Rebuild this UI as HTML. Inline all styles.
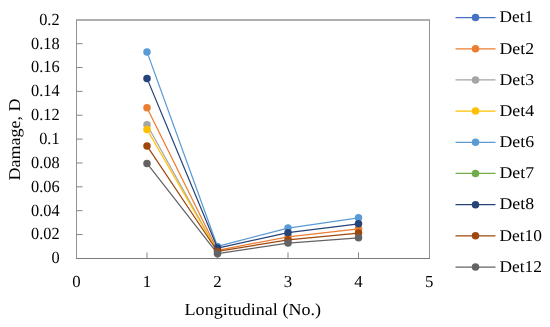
<!DOCTYPE html><html><head><meta charset="utf-8"><style>html,body{margin:0;padding:0;background:#fff;width:550px;height:327px;overflow:hidden}svg{display:block}text{font-family:"Liberation Serif", serif;fill:#000;text-rendering:geometricPrecision}</style></head><body>
<svg width="550" height="327" viewBox="0 0 550 327">
<rect width="550" height="327" fill="#fff"/>
<path d="M76.5,258.5 V20 M429.5,20 V258.5" fill="none" stroke="#949494" stroke-width="1"/>
<line x1="76.0" y1="20" x2="430.0" y2="20" stroke="#949494" stroke-width="1.4"/>
<line x1="76.0" y1="258.5" x2="430.0" y2="258.5" stroke="#7a7a7a" stroke-width="1"/>
<line x1="76.5" y1="234.54" x2="82.5" y2="234.54" stroke="#858585" stroke-width="1"/>
<line x1="76.5" y1="210.68" x2="82.5" y2="210.68" stroke="#858585" stroke-width="1"/>
<line x1="76.5" y1="186.82" x2="82.5" y2="186.82" stroke="#858585" stroke-width="1"/>
<line x1="76.5" y1="162.96" x2="82.5" y2="162.96" stroke="#858585" stroke-width="1"/>
<line x1="76.5" y1="139.10" x2="82.5" y2="139.10" stroke="#858585" stroke-width="1"/>
<line x1="76.5" y1="115.24" x2="82.5" y2="115.24" stroke="#858585" stroke-width="1"/>
<line x1="76.5" y1="91.38" x2="82.5" y2="91.38" stroke="#858585" stroke-width="1"/>
<line x1="76.5" y1="67.52" x2="82.5" y2="67.52" stroke="#858585" stroke-width="1"/>
<line x1="76.5" y1="43.66" x2="82.5" y2="43.66" stroke="#858585" stroke-width="1"/>
<line x1="147.00" y1="258.4" x2="147.00"  y2="252.39999999999998" stroke="#858585" stroke-width="1"/>
<line x1="217.50" y1="258.4" x2="217.50"  y2="252.39999999999998" stroke="#858585" stroke-width="1"/>
<line x1="288.00" y1="258.4" x2="288.00"  y2="252.39999999999998" stroke="#858585" stroke-width="1"/>
<line x1="358.50" y1="258.4" x2="358.50"  y2="252.39999999999998" stroke="#858585" stroke-width="1"/>
<text transform="translate(59.6,263.30) scale(0.96,1)" font-size="17" text-anchor="end">0</text>
<text transform="translate(59.6,239.44) scale(0.96,1)" font-size="17" text-anchor="end">0.02</text>
<text transform="translate(59.6,215.58) scale(0.96,1)" font-size="17" text-anchor="end">0.04</text>
<text transform="translate(59.6,191.72) scale(0.96,1)" font-size="17" text-anchor="end">0.06</text>
<text transform="translate(59.6,167.86) scale(0.96,1)" font-size="17" text-anchor="end">0.08</text>
<text transform="translate(59.6,144.00) scale(0.96,1)" font-size="17" text-anchor="end">0.1</text>
<text transform="translate(59.6,120.14) scale(0.96,1)" font-size="17" text-anchor="end">0.12</text>
<text transform="translate(59.6,96.28) scale(0.96,1)" font-size="17" text-anchor="end">0.14</text>
<text transform="translate(59.6,72.42) scale(0.96,1)" font-size="17" text-anchor="end">0.16</text>
<text transform="translate(59.6,48.56) scale(0.96,1)" font-size="17" text-anchor="end">0.18</text>
<text transform="translate(59.6,24.70) scale(0.96,1)" font-size="17" text-anchor="end">0.2</text>
<text x="76.50" y="287.0" font-size="16.8" text-anchor="middle">0</text>
<text x="147.00" y="287.0" font-size="16.8" text-anchor="middle">1</text>
<text x="217.50" y="287.0" font-size="16.8" text-anchor="middle">2</text>
<text x="288.00" y="287.0" font-size="16.8" text-anchor="middle">3</text>
<text x="358.50" y="287.0" font-size="16.8" text-anchor="middle">4</text>
<text x="429.30" y="287.0" font-size="16.8" text-anchor="middle">5</text>
<text x="184.6" y="315.2" font-size="17" textLength="136.4" lengthAdjust="spacingAndGlyphs">Longitudinal (No.)</text>
<text transform="translate(19.7,180.5) rotate(-90)" x="0" y="0" font-size="16.5" textLength="82.0" lengthAdjust="spacingAndGlyphs">Damage, D</text>
<polyline points="147.00,107.84 217.50,250.29 288.00,236.81 358.50,228.93" fill="none" stroke="#ED7D31" stroke-width="1.25" stroke-linejoin="round"/>
<circle cx="147.00" cy="107.84" r="3.75" fill="#ED7D31"/>
<circle cx="217.50" cy="250.29" r="3.75" fill="#ED7D31"/>
<circle cx="288.00" cy="236.81" r="3.75" fill="#ED7D31"/>
<circle cx="358.50" cy="228.93" r="3.75" fill="#ED7D31"/>
<polyline points="147.00,124.78 217.50,251.48" fill="none" stroke="#A5A5A5" stroke-width="1.25" stroke-linejoin="round"/>
<circle cx="147.00" cy="124.78" r="3.75" fill="#A5A5A5"/>
<polyline points="147.00,129.44 217.50,251.48" fill="none" stroke="#FFC000" stroke-width="1.25" stroke-linejoin="round"/>
<circle cx="147.00" cy="129.44" r="3.75" fill="#FFC000"/>
<polyline points="147.00,51.89 217.50,246.47 288.00,228.10 358.50,217.84" fill="none" stroke="#5B9BD5" stroke-width="1.25" stroke-linejoin="round"/>
<circle cx="147.00" cy="51.89" r="3.75" fill="#5B9BD5"/>
<circle cx="217.50" cy="246.47" r="3.75" fill="#5B9BD5"/>
<circle cx="288.00" cy="228.10" r="3.75" fill="#5B9BD5"/>
<circle cx="358.50" cy="217.84" r="3.75" fill="#5B9BD5"/>
<polyline points="147.00,78.38 217.50,248.02 288.00,232.63 358.50,223.80" fill="none" stroke="#264478" stroke-width="1.25" stroke-linejoin="round"/>
<circle cx="147.00" cy="78.38" r="3.75" fill="#264478"/>
<circle cx="217.50" cy="248.02" r="3.75" fill="#264478"/>
<circle cx="288.00" cy="232.63" r="3.75" fill="#264478"/>
<circle cx="358.50" cy="223.80" r="3.75" fill="#264478"/>
<polyline points="147.00,145.90 217.50,251.48 288.00,239.91 358.50,233.11" fill="none" stroke="#9E480E" stroke-width="1.25" stroke-linejoin="round"/>
<circle cx="147.00" cy="145.90" r="3.75" fill="#9E480E"/>
<circle cx="217.50" cy="251.48" r="3.75" fill="#9E480E"/>
<circle cx="288.00" cy="239.91" r="3.75" fill="#9E480E"/>
<circle cx="358.50" cy="233.11" r="3.75" fill="#9E480E"/>
<polyline points="147.00,163.44 217.50,253.63 288.00,243.01 358.50,237.76" fill="none" stroke="#636363" stroke-width="1.25" stroke-linejoin="round"/>
<circle cx="147.00" cy="163.44" r="3.75" fill="#636363"/>
<circle cx="217.50" cy="253.63" r="3.75" fill="#636363"/>
<circle cx="288.00" cy="243.01" r="3.75" fill="#636363"/>
<circle cx="358.50" cy="237.76" r="3.75" fill="#636363"/>
<line x1="455.5" y1="17.60" x2="495.5" y2="17.60" stroke="#4472C4" stroke-width="1.25"/>
<circle cx="475.5" cy="17.60" r="3.75" fill="#4472C4"/>
<text transform="translate(499.5,22.40) scale(1,1.0)" font-size="16.5" textLength="33.6" lengthAdjust="spacingAndGlyphs">Det1</text>
<line x1="455.5" y1="48.78" x2="495.5" y2="48.78" stroke="#ED7D31" stroke-width="1.25"/>
<circle cx="475.5" cy="48.78" r="3.75" fill="#ED7D31"/>
<text transform="translate(499.5,53.58) scale(1,1.0)" font-size="16.5" textLength="34.6" lengthAdjust="spacingAndGlyphs">Det2</text>
<line x1="455.5" y1="79.95" x2="495.5" y2="79.95" stroke="#A5A5A5" stroke-width="1.25"/>
<circle cx="475.5" cy="79.95" r="3.75" fill="#A5A5A5"/>
<text transform="translate(499.5,84.75) scale(1,1.0)" font-size="16.5" textLength="34.6" lengthAdjust="spacingAndGlyphs">Det3</text>
<line x1="455.5" y1="111.12" x2="495.5" y2="111.12" stroke="#FFC000" stroke-width="1.25"/>
<circle cx="475.5" cy="111.12" r="3.75" fill="#FFC000"/>
<text transform="translate(499.5,115.92) scale(1,1.0)" font-size="16.5" textLength="34.6" lengthAdjust="spacingAndGlyphs">Det4</text>
<line x1="455.5" y1="142.30" x2="495.5" y2="142.30" stroke="#5B9BD5" stroke-width="1.25"/>
<circle cx="475.5" cy="142.30" r="3.75" fill="#5B9BD5"/>
<text transform="translate(499.5,147.10) scale(1,1.0)" font-size="16.5" textLength="34.6" lengthAdjust="spacingAndGlyphs">Det6</text>
<line x1="455.5" y1="173.47" x2="495.5" y2="173.47" stroke="#70AD47" stroke-width="1.25"/>
<circle cx="475.5" cy="173.47" r="3.75" fill="#70AD47"/>
<text transform="translate(499.5,178.28) scale(1,1.0)" font-size="16.5" textLength="34.6" lengthAdjust="spacingAndGlyphs">Det7</text>
<line x1="455.5" y1="204.65" x2="495.5" y2="204.65" stroke="#264478" stroke-width="1.25"/>
<circle cx="475.5" cy="204.65" r="3.75" fill="#264478"/>
<text transform="translate(499.5,209.45) scale(1,1.0)" font-size="16.5" textLength="34.6" lengthAdjust="spacingAndGlyphs">Det8</text>
<line x1="455.5" y1="235.82" x2="495.5" y2="235.82" stroke="#9E480E" stroke-width="1.25"/>
<circle cx="475.5" cy="235.82" r="3.75" fill="#9E480E"/>
<text transform="translate(499.5,240.62) scale(1,1.0)" font-size="16.5" textLength="42.5" lengthAdjust="spacingAndGlyphs">Det10</text>
<line x1="455.5" y1="267.00" x2="495.5" y2="267.00" stroke="#636363" stroke-width="1.25"/>
<circle cx="475.5" cy="267.00" r="3.75" fill="#636363"/>
<text transform="translate(499.5,271.80) scale(1,1.0)" font-size="16.5" textLength="42.5" lengthAdjust="spacingAndGlyphs">Det12</text>
</svg></body></html>
